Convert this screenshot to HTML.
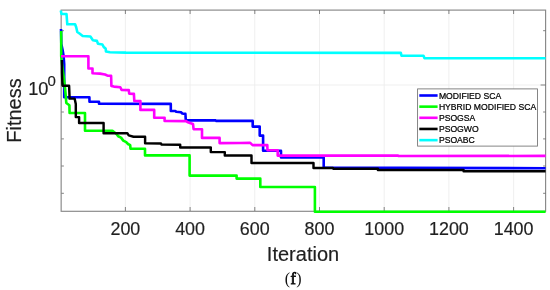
<!DOCTYPE html>
<html><head><meta charset="utf-8">
<style>
html,body{margin:0;padding:0;background:#fff;}
body{width:550px;height:290px;overflow:hidden;}
svg{display:block;}
text{font-family:"Liberation Sans",sans-serif;fill:#1f1f1f;stroke:#1f1f1f;stroke-width:0.18;}
.ln{fill:none;stroke-width:2.6;stroke-linejoin:round;stroke-linecap:butt;}
</style></head><body>
<svg width="550" height="290" viewBox="0 0 550 290">
<rect width="550" height="290" fill="#fff"/>
<g stroke="#ededed" stroke-width="0.9" fill="none">
<line x1="125.4" y1="10" x2="125.4" y2="211"/>
<line x1="190.1" y1="10" x2="190.1" y2="211"/>
<line x1="254.8" y1="10" x2="254.8" y2="211"/>
<line x1="319.5" y1="10" x2="319.5" y2="211"/>
<line x1="384.2" y1="10" x2="384.2" y2="211"/>
<line x1="448.9" y1="10" x2="448.9" y2="211"/>
<line x1="513.6" y1="10" x2="513.6" y2="211"/>
<line x1="61" y1="85" x2="546" y2="85"/>
</g>
<rect x="61.15" y="10.1" width="484.45" height="201.2" fill="none" stroke="#888888" stroke-width="1.15"/>
<g stroke="#666666" stroke-width="0.8" fill="none">
<path d="M125.4 211v-4M190.1 211v-4M254.8 211v-4M319.5 211v-4M384.2 211v-4M448.9 211v-4M513.6 211v-4"/>
<path d="M125.4 10v4M190.1 10v4M254.8 10v4M319.5 10v4M384.2 10v4M448.9 10v4M513.6 10v4"/>
<path d="M61.4 85h5M545.6 85h-5"/>
<path d="M61.4 30.7h2.5M61.4 57.9h2.5M61.4 112h2.5M61.4 138.9h2.5M61.4 166h2.5M61.4 193.3h2.5M545.6 30.7h-2.5M545.6 57.9h-2.5M545.6 112h-2.5M545.6 138.9h-2.5M545.6 166h-2.5M545.6 193.3h-2.5"/>
</g>
<polyline class="ln" stroke="#0000ff" points="61,29 61.3,44 62.6,50 63.6,56 64.2,64 64.2,97.3 89.4,97.3 89.5,101.8 99,101.8 99,103.8 170.8,103.9 170.8,110.9 175.3,111 176.2,111.8 181,112.3 182.3,113.5 185.4,113.9 185.8,120.4 215.7,120.4 216.3,120.9 252.7,120.9 252.7,126.6 259.7,126.6 259.7,135.6 263.1,135.6 263.1,150.7 278.3,150.8 281,150.9 281,157.5 323.7,157.5 323.7,167.8 400,167.9 545.6,168.2"/>
<polyline class="ln" stroke="#00ff00" points="61.2,31 61.2,56 62,64 63.2,73 64.6,84 65.6,94 66.3,103 69.4,105.3 69.6,113 85,113 85,130.7 112.4,130.7 114,132 116.5,134 118.2,136.3 121,137.6 123.3,140.6 126.2,142.1 128,144 130.2,145.2 130.5,148.7 145,148.7 145,155.4 189.6,155.4 189.6,175.6 236.6,175.6 236.6,178.6 260.3,178.6 260.3,187 314.9,187 314.9,211.7 545.6,211.7"/>
<polyline class="ln" stroke="#ff00ff" points="61,56.3 88.4,56.3 88.4,68.5 92.5,68.5 92.5,73.3 100,73.6 105,74.5 107.5,75.7 111.1,75.7 111.4,85.9 113.9,86.6 120.3,87.2 121.6,89.9 128.8,90.1 129.2,93.7 133.9,93.9 134.3,100.9 140.4,101.1 140.4,109.9 154.2,109.9 154.2,117.8 164.6,117.8 164.6,121 186,121.1 188,122.3 190,123.1 193,124 193.6,129.2 202,129.2 202,137.9 219.6,137.9 219.6,143.1 240,143 250.2,142.9 252.6,145.1 267.3,145.1 267.5,150.3 277.7,150.3 277.7,155.6 398,155.6 398.5,156 545.6,155.9"/>
<polyline class="ln" stroke="#000000" style="stroke-width:2.45" points="61.9,60 62,73 62.4,84 62.6,85.7 69.1,85.7 69.6,98.6 74.6,98.6 75.8,104 75.8,117.1 79.1,117.1 79.1,123 103.6,123 103.6,133.2 127.3,133.2 128.7,135.4 133.5,136.7 145.1,136.7 145.1,143.2 161,143.5 161.6,144.6 180.2,144.7 180.2,147.5 210.8,147.5 210.8,152.1 224.8,152.1 224.8,155.4 251.5,155.4 251.5,163 313.5,163 313.5,167.9 333,167.9 333.5,168.8 377.9,168.8 377.9,169.9 463.6,170 463.6,171.2 545.6,171.2"/>
<polyline class="ln" stroke="#00ffff" points="60.8,10.5 61.5,14 66.5,14 67.3,24.3 75.1,24.3 76.2,27.3 77.3,32 79.5,33.5 82.7,36 90.4,36.5 92.9,40.2 96.9,40.9 98,43.8 102.4,44.5 103.8,47.1 105.6,48.5 106,51.5 110,52.2 126,52.6 400.8,52.9 401.5,55.7 423.5,55.7 424.5,58.2 545.6,58.2"/>
<rect x="417.6" y="88.9" width="119.9" height="57.2" fill="#fff" stroke="#707070" stroke-width="0.85"/>
<g stroke-width="2.6" fill="none">
<line x1="419.3" y1="95.5" x2="437.6" y2="95.5" stroke="#0000ff"/>
<line x1="419.3" y1="106.65" x2="437.6" y2="106.65" stroke="#00ff00"/>
<line x1="419.3" y1="117.8" x2="437.6" y2="117.8" stroke="#ff00ff"/>
<line x1="419.3" y1="128.95" x2="437.6" y2="128.95" stroke="#000000"/>
<line x1="419.3" y1="140.15" x2="437.6" y2="140.15" stroke="#00ffff"/>
</g>
<g font-size="8.65">
<text x="438.9" y="98.8" style="fill:#000;stroke:#000;stroke-width:0.22">MODIFIED SCA</text>
<text x="438.9" y="109.9" style="fill:#000;stroke:#000;stroke-width:0.22">HYBRID MODIFIED SCA</text>
<text x="438.9" y="121.0" style="fill:#000;stroke:#000;stroke-width:0.22">PSOGSA</text>
<text x="438.9" y="132.2" style="fill:#000;stroke:#000;stroke-width:0.22">PSOGWO</text>
<text x="438.9" y="143.4" style="fill:#000;stroke:#000;stroke-width:0.22">PSOABC</text>
</g>
<g font-size="17.9" text-anchor="middle">
<text x="125.4" y="235.4">200</text>
<text x="190.1" y="235.4">400</text>
<text x="254.8" y="235.4">600</text>
<text x="319.5" y="235.4">800</text>
<text x="384.2" y="235.4">1000</text>
<text x="448.9" y="235.4">1200</text>
<text x="513.6" y="235.4">1400</text>
</g>
<text x="28.2" y="94.7" font-size="18.2">10</text>
<text x="47.5" y="85.5" font-size="15">0</text>
<text x="303" y="260.8" font-size="20" text-anchor="middle">Iteration</text>
<text transform="translate(20.6,110.5) rotate(-90)" font-size="20" text-anchor="middle">Fitness</text>
<text x="293.3" y="283.6" font-size="16" letter-spacing="0.4" text-anchor="middle" style="font-family:'Liberation Serif',serif;fill:#111;stroke:none">(<tspan style="stroke:#111;stroke-width:0.85">f</tspan>)</text>
</svg>
</body></html>
